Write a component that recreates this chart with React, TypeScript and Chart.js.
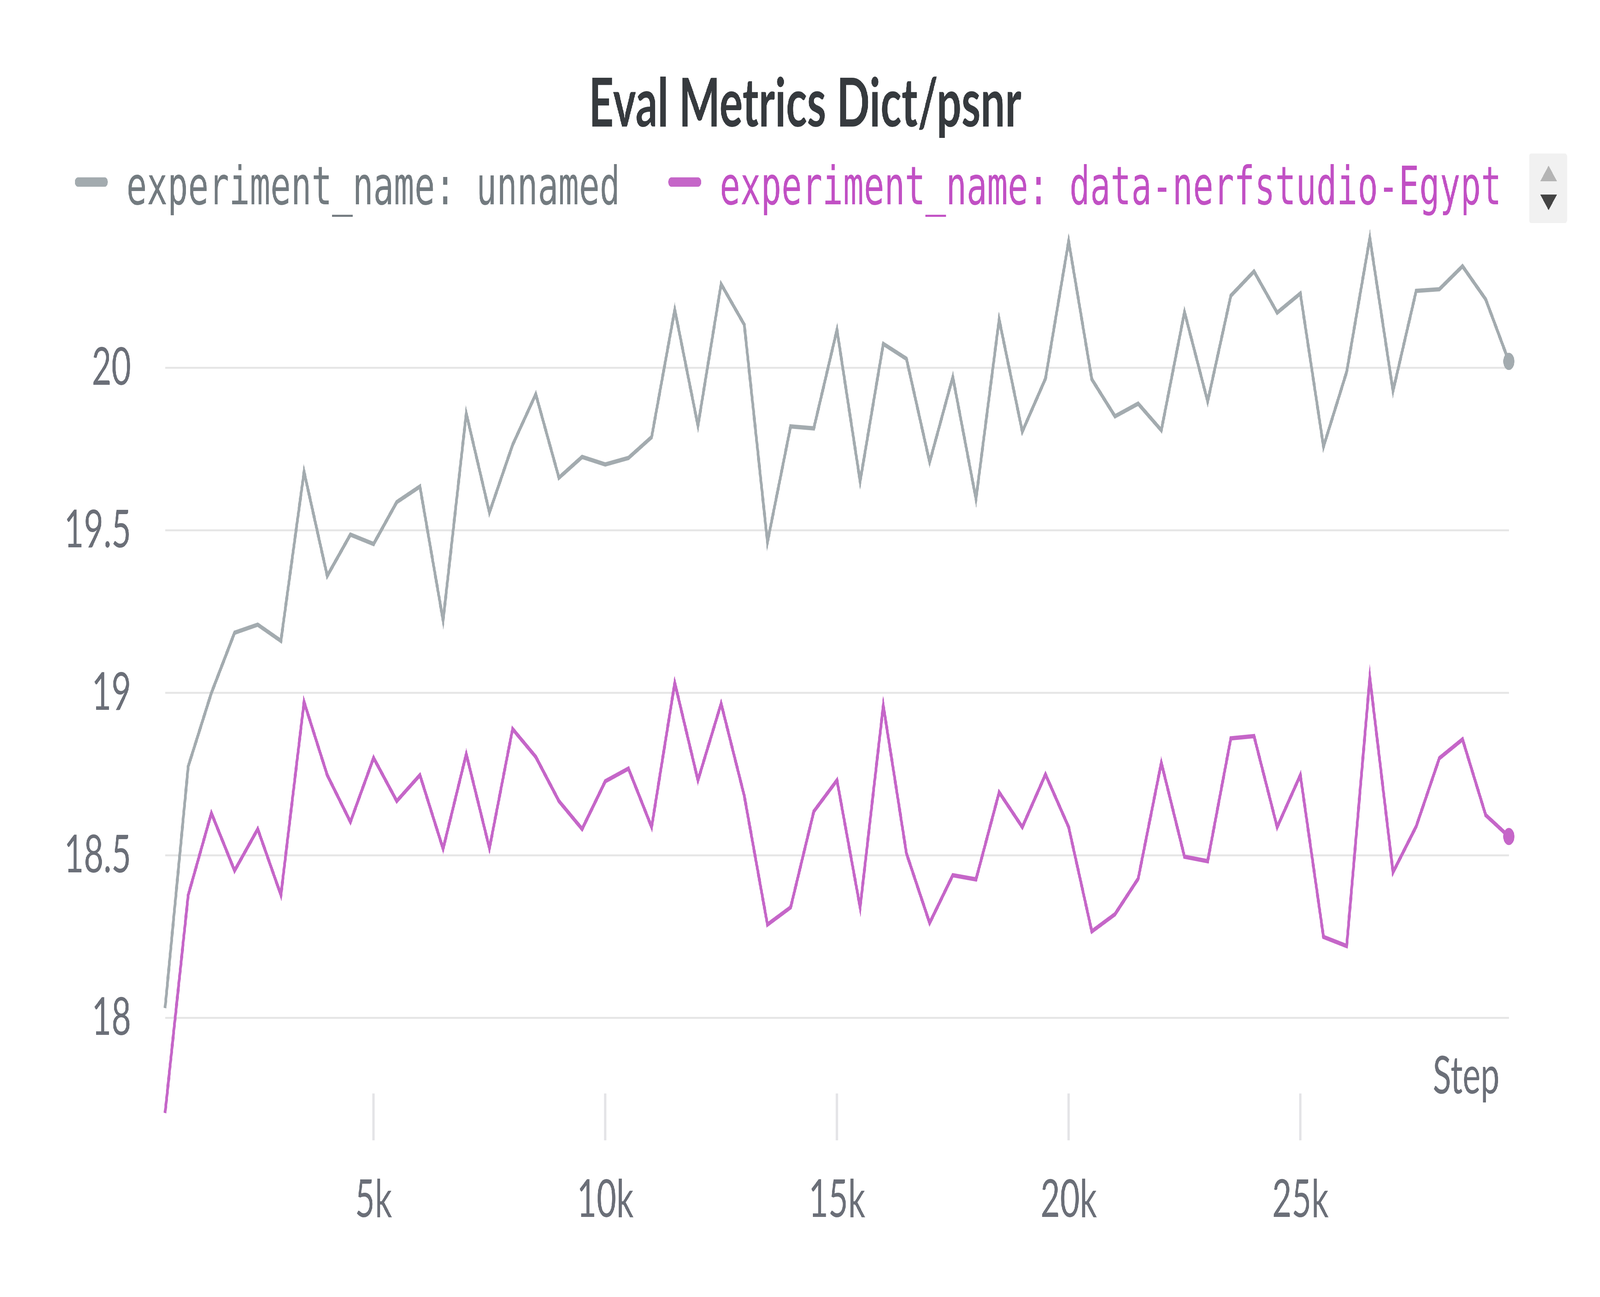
import React, { useEffect, useRef } from "react";
import { Chart, registerables } from "chart.js";

Chart.register(...registerables);

const TITLE = "Eval Metrics Dict/psnr";
const SERIES_NAMES = ["experiment_name: unnamed", "experiment_name: data-nerfstudio-Egypt"];
const LINE_COLORS = ["#a3abaf", "#c566c8"];
const LEGEND_TEXT_COLORS = ["#737b80", "#c150c4"];
const X_LABEL = "Step";

const STEPS = [
  500, 1000, 1500, 2000, 2500, 3000, 3500, 4000, 4500, 5000,
  5500, 6000, 6500, 7000, 7500, 8000, 8500, 9000, 9500, 10000,
  10500, 11000, 11500, 12000, 12500, 13000, 13500, 14000, 14500, 15000,
  15500, 16000, 16500, 17000, 17500, 18000, 18500, 19000, 19500, 20000,
  20500, 21000, 21500, 22000, 22500, 23000, 23500, 24000, 24500, 25000,
  25500, 26000, 26500, 27000, 27500, 28000, 28500, 29000, 29500,
];

const UNNAMED = [
  18.03, 18.774, 19.0, 19.185, 19.21, 19.16, 19.68, 19.36, 19.487, 19.458,
  19.587, 19.635, 19.223, 19.86, 19.555, 19.763, 19.919, 19.662, 19.726, 19.703,
  19.723, 19.787, 20.179, 19.822, 20.258, 20.133, 19.464, 19.82, 19.814, 20.117,
  19.651, 20.074, 20.028, 19.71, 19.972, 19.597, 20.149, 19.804, 19.967, 20.39,
  19.965, 19.851, 19.89, 19.808, 20.172, 19.897, 20.222, 20.297, 20.17, 20.229,
  19.758, 19.988, 20.4, 19.929, 20.237, 20.242, 20.313, 20.211, 20.02,
];

const EGYPT = [
  17.707, 18.378, 18.63, 18.453, 18.581, 18.378, 18.972, 18.747, 18.603, 18.8,
  18.667, 18.747, 18.52, 18.812, 18.522, 18.889, 18.803, 18.667, 18.581, 18.728,
  18.767, 18.587, 19.031, 18.731, 18.967, 18.683, 18.287, 18.34, 18.635, 18.731,
  18.34, 18.961, 18.506, 18.292, 18.439, 18.426, 18.694, 18.587, 18.749, 18.587,
  18.266, 18.319, 18.428, 18.785, 18.496, 18.482, 18.86, 18.867, 18.587, 18.747,
  18.249, 18.221, 19.047, 18.448, 18.589, 18.799, 18.857, 18.624, 18.558,
];

const X_TICKS = [5000, 10000, 15000, 20000, 25000];
const X_TICK_LABELS = ["5k", "10k", "15k", "20k", "25k"];
const Y_TICKS = [18, 18.5, 19, 19.5, 20];
const Y_TICK_LABELS = ["18", "18.5", "19", "19.5", "20"];

const Y_MIN = 17.7;
const Y_MAX = 20.4;
const X_MIN = 500;
const X_MAX = 29500;

const W = 6320;
const H = 3320;

const AXIS_FONT = "Lato, 'Noto Sans', sans-serif";
const MONO_FONT = "'DejaVu Sans Mono', 'Liberation Mono', monospace";

const decorPlugin = {
  id: "decor",
  beforeDatasetsDraw(chart: any) {
    const { ctx, chartArea, scales } = chart;
    const xs = scales.x;
    ctx.save();
    ctx.strokeStyle = "#e4e4e7";
    ctx.lineWidth = 9;
    xs.ticks.forEach((t: any) => {
      const px = xs.getPixelForValue(t.value);
      ctx.beginPath();
      ctx.moveTo(px, chartArea.bottom - 56);
      ctx.lineTo(px, chartArea.bottom + 64);
      ctx.stroke();
    });
    ctx.restore();
  },
  afterDraw(chart: any) {
    const { ctx, chartArea } = chart;
    ctx.save();
    ctx.fillStyle = "#363a3e";
    ctx.font = `bold 172px ${AXIS_FONT}`;
    ctx.textAlign = "center";
    ctx.textBaseline = "alphabetic";
    ctx.fillText(TITLE, 3180, 324);

    ctx.font = `135px ${MONO_FONT}`;
    ctx.textBaseline = "middle";
    ctx.textAlign = "left";
    let x = 296;
    const yMid = 488;
    chart.data.datasets.forEach((ds: any, i: number) => {
      ctx.fillStyle = ds.borderColor;
      const w = 130, h = 24;
      ctx.beginPath();
      (ctx as any).roundRect(x, 466 - h / 2, w, h, h / 2);
      ctx.fill();
      x += w + 73;
      ctx.fillStyle = LEGEND_TEXT_COLORS[i];
      ctx.fillText(ds.label, x, yMid);
      x += ctx.measureText(ds.label).width + 190;
    });

    ctx.fillStyle = "#f1f1f1";
    ctx.beginPath();
    (ctx as any).roundRect(6040, 393, 150, 178, 8);
    ctx.fill();
    ctx.fillStyle = "#b4b4b4";
    ctx.beginPath();
    ctx.moveTo(6117, 424);
    ctx.lineTo(6150, 464);
    ctx.lineTo(6084, 464);
    ctx.closePath();
    ctx.fill();
    ctx.fillStyle = "#444444";
    ctx.beginPath();
    ctx.moveTo(6084, 498);
    ctx.lineTo(6150, 498);
    ctx.lineTo(6117, 538);
    ctx.closePath();
    ctx.fill();

    ctx.fillStyle = "#6b6f78";
    ctx.font = `134px ${AXIS_FONT}`;
    ctx.textAlign = "right";
    ctx.textBaseline = "alphabetic";
    ctx.fillText(X_LABEL, chartArea.right - 37, chartArea.bottom - 56);
    ctx.restore();
  },
};

export default function App() {
  const canvasRef = useRef<HTMLCanvasElement | null>(null);
  const vw = typeof window !== "undefined" ? window.innerWidth : W;
  const vh = typeof window !== "undefined" ? window.innerHeight : H;
  const sx = vw / W;
  const sy = vh / H;

  useEffect(() => {
    if (!canvasRef.current) return;
    const last = STEPS.length - 1;
    const makeData = (vals: number[]) => STEPS.map((s, i) => ({ x: s, y: vals[i] }));
    const ds = (label: string, vals: number[], color: string) => ({
      label,
      data: makeData(vals),
      borderColor: color,
      backgroundColor: color,
      borderWidth: 11,
      tension: 0,
      pointRadius: (c: any) => (c.dataIndex === last ? 22 : 0),
      pointBorderWidth: 0,
      pointHoverRadius: 0,
      clip: 30,
    });
    const chart = new Chart(canvasRef.current, {
      type: "line",
      data: {
        datasets: [ds(SERIES_NAMES[0], UNNAMED, LINE_COLORS[0]), ds(SERIES_NAMES[1], EGYPT, LINE_COLORS[1])],
      },
      options: {
        animation: false,
        responsive: false,
        maintainAspectRatio: false,
        devicePixelRatio: 1,
        layout: { padding: { top: 609, right: 360, left: 0, bottom: 0 } },
        plugins: {
          legend: { display: false },
          title: { display: false },
          tooltip: { enabled: false },
        },
        scales: {
          x: {
            type: "linear",
            min: X_MIN,
            max: X_MAX,
            ticks: {
              padding: 136,
              color: "#6b6f78",
              font: { family: AXIS_FONT, size: 134 },
              maxRotation: 0,
              autoSkip: false,
              callback: (v: any) => {
                const k = X_TICKS.indexOf(Number(v));
                return k >= 0 ? X_TICK_LABELS[k] : "";
              },
            },
            afterBuildTicks: (scale: any) => {
              scale.ticks = X_TICKS.map((v) => ({ value: v }));
            },
            afterFit: (scale: any) => {
              scale.height = 465;
            },
            grid: { display: false, drawTicks: false },
            border: { display: false },
          },
          y: {
            type: "linear",
            min: Y_MIN,
            max: Y_MAX,
            ticks: {
              padding: 134,
              color: "#6b6f78",
              font: { family: AXIS_FONT, size: 134 },
              autoSkip: false,
              callback: (v: any) => {
                const k = Y_TICKS.indexOf(Number(v));
                return k >= 0 ? Y_TICK_LABELS[k] : "";
              },
            },
            afterBuildTicks: (scale: any) => {
              scale.ticks = Y_TICKS.map((v) => ({ value: v }));
            },
            afterFit: (scale: any) => {
              scale.width = 652;
            },
            grid: { color: "#e6e6e6", lineWidth: 5, drawTicks: false },
            border: { display: false },
          },
        },
      },
      plugins: [decorPlugin],
    });
    return () => chart.destroy();
  }, []);

  return (
    <div
      style={{
        position: "fixed",
        left: 0,
        top: 0,
        width: W,
        height: H,
        background: "#ffffff",
        transform: `scale(${sx}, ${sy})`,
        transformOrigin: "0 0",
      }}
    >
      <canvas ref={canvasRef} width={W} height={H} style={{ width: W, height: H, display: "block" }} />
    </div>
  );
}
